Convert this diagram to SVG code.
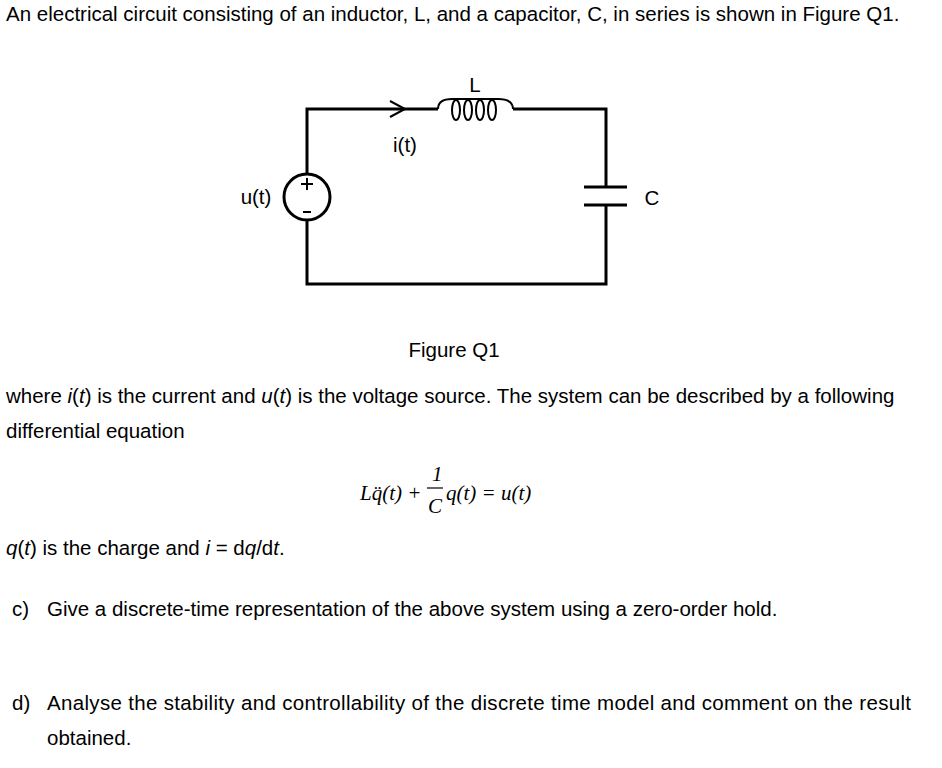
<svg xmlns="http://www.w3.org/2000/svg" width="942" height="768" viewBox="0 0 942 768">
<style>
.t{font-family:"Liberation Sans",Arial,sans-serif;font-size:20.5px;fill:#000}
.m{font-family:"Liberation Serif","Times New Roman",serif;font-size:21px;font-style:italic;fill:#000}
.w{fill:none;stroke:#000;stroke-width:3}
.c{fill:none;stroke:#000;stroke-width:2}
</style>
<rect width="942" height="768" fill="#fff"/>
<text class="t" x="6" y="21">An electrical circuit consisting of an inductor, L, and a capacitor, C, in series is shown in Figure Q1.</text>
<g id="connectors">
<path class="w" d="M307,174 V109 H438 M513,109 H606 V187 M606,205 V284 H307 V220"/>
<path class="c" d="M390,101 L405,109 L390,117"/>
</g>
<g id="inductor">
<path class="c" d="M438,109 Q438,99 452,99 H498 Q513,99 513,109"/>
<ellipse class="c" cx="456" cy="110" rx="4" ry="10"/>
<ellipse class="c" cx="468" cy="110" rx="4" ry="10"/>
<ellipse class="c" cx="480" cy="110" rx="4" ry="10"/>
<ellipse class="c" cx="492" cy="110" rx="4" ry="10"/>
<text class="t" x="475" y="92" text-anchor="middle">L</text>
</g>
<g id="capacitor">
<path class="w" d="M584,187 H627 M584,205 H627"/>
<text class="t" x="652" y="205" text-anchor="middle">C</text>
</g>
<g id="source">
<circle cx="307" cy="197" r="23" fill="none" stroke="#000" stroke-width="3"/>
<path class="c" d="M301,184 H313 M307,178 V190 M303,212 H311"/>
<text class="t" x="256" y="204" text-anchor="middle">u(t)</text>
</g>
<text class="t" x="405" y="152" text-anchor="middle">i(t)</text>
<text class="t" x="454" y="357" text-anchor="middle">Figure Q1</text>
<text class="t" x="6" y="403">where <tspan font-style="italic">i</tspan>(<tspan font-style="italic">t</tspan>) is the current and <tspan font-style="italic">u</tspan>(<tspan font-style="italic">t</tspan>) is the voltage source. The system can be described by a following</text>
<text class="t" x="6" y="438">differential equation</text>
<text class="m" x="360" y="500">Lq̈(t) +</text>
<text class="m" x="432" y="481" font-style="normal" font-size="18">1</text>
<line x1="427" y1="488" x2="443" y2="488" stroke="#000" stroke-width="1.2"/>
<text class="m" x="428" y="513">C</text>
<text class="m" x="446" y="500">q(t) = u(t)</text>
<text class="t" x="6" y="555"><tspan font-style="italic">q</tspan>(<tspan font-style="italic">t</tspan>) is the charge and <tspan font-style="italic">i</tspan> = d<tspan font-style="italic">q</tspan>/d<tspan font-style="italic">t</tspan>.</text>
<text class="t" x="12" y="616">c)</text>
<text class="t" x="47" y="616">Give a discrete-time representation of the above system using a zero-order hold.</text>
<text class="t" x="12" y="710">d)</text>
<text class="t" x="47" y="710" textLength="864">Analyse the stability and controllability of the discrete time model and comment on the result</text>
<text class="t" x="47" y="745">obtained.</text>
</svg>
